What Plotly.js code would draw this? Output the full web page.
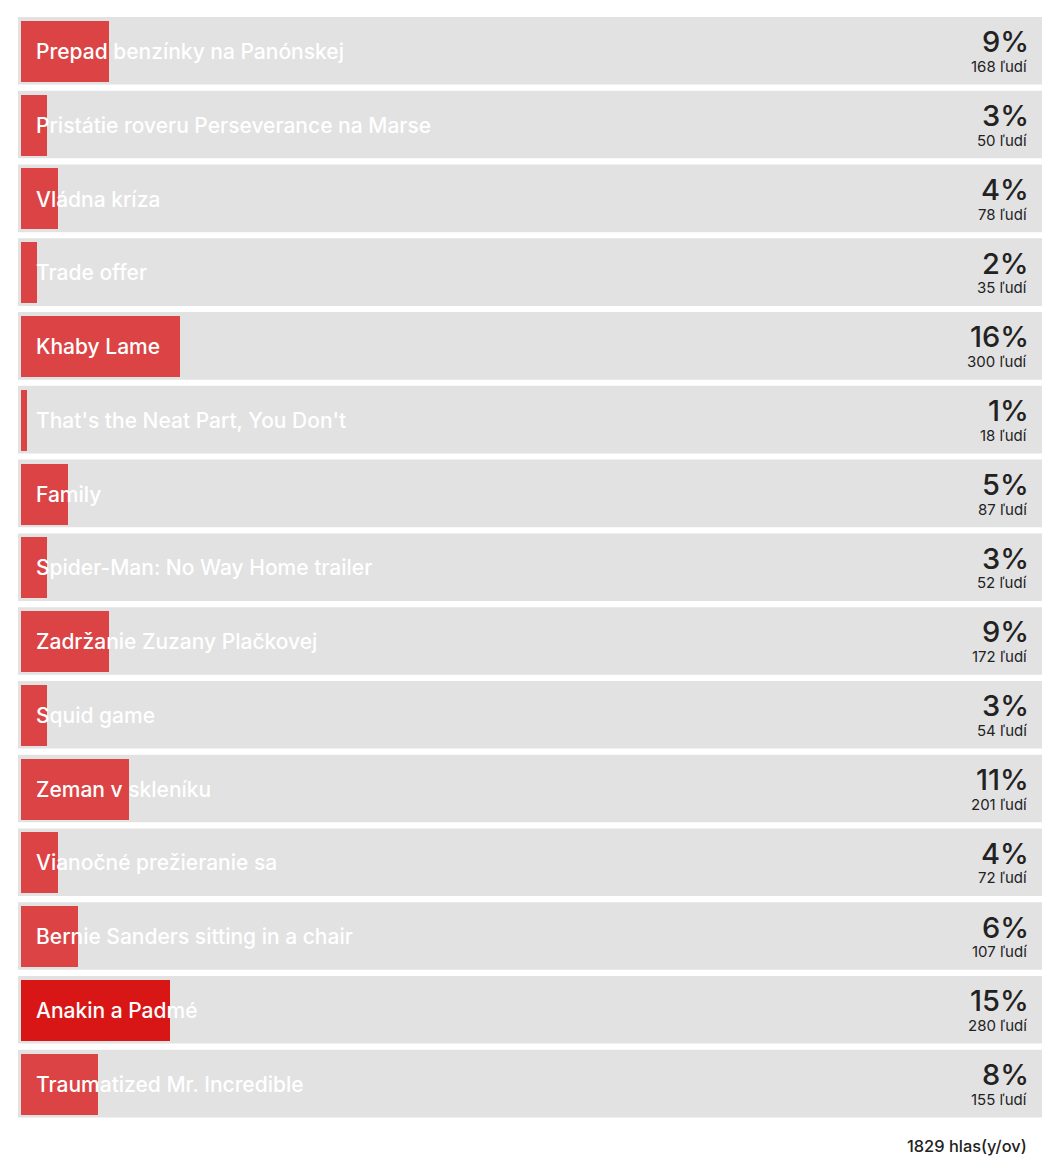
<!DOCTYPE html>
<html><head><meta charset="utf-8">
<script src="https://cdn.plot.ly/plotly-3.0.1.min.js"></script>
<style>html,body{margin:0;padding:0;background:#fff;overflow:hidden}#c{width:1052px;height:1163px}</style>
</head><body><div id="c"></div>
<script>
const categories=["Prepad benzínky na Panónskej","Pristátie roveru Perseverance na Marse","Vládna kríza","Trade offer","Khaby Lame","That's the Neat Part, You Don't","Family","Spider-Man: No Way Home trailer","Zadržanie Zuzany Plačkovej","Squid game","Zeman v skleníku","Vianočné prežieranie sa","Bernie Sanders sitting in a chair","Anakin a Padmé","Traumatized Mr. Incredible"];
const percents=[9,3,4,2,16,1,5,3,9,3,11,4,6,15,8];
const votes=[168,50,78,35,300,18,87,52,172,54,201,72,107,280,155];
const winner="Anakin a Padmé";
const footer="1829 hlas(y/ov)";
const peopleWord="ľudí";

const F="Inter, sans-serif", W=1052,H=1163, ROW=73.77, FIRST=50.8;
const PXP=10.2, ZERO=16.8, INSET=(21-ZERO)/PXP;
const idx=categories.map((_,i)=>i);
const bars={type:"bar",orientation:"h",y:idx,x:percents.map(p=>p-INSET),base:INSET,width:61/ROW,offset:-29.9/ROW,
  marker:{color:categories.map(c=>c===winner?"#d91616":"#dc4345"),line:{width:0}},hoverinfo:"skip"};
const shapes=idx.map(i=>({type:"rect",layer:"below",xref:"paper",yref:"y",x0:0,x1:1,y0:i-33.8/ROW,y1:i+33.8/ROW,fillcolor:"#e2e2e2",line:{width:0}}));
const annotations=[];
idx.forEach(i=>{
  annotations.push({xref:"paper",yref:"y",x:0,y:i,xshift:16,yshift:-0.7,xanchor:"left",yanchor:"middle",showarrow:false,text:categories[i],font:{family:F,size:21,color:"#ffffff",weight:500}});
  annotations.push({xref:"paper",yref:"y",x:1,y:i,xshift:-11.5,yshift:9,xanchor:"right",yanchor:"middle",showarrow:false,text:percents[i]+"%",font:{family:F,size:29,color:"#222222",weight:500}});
  annotations.push({xref:"paper",yref:"y",x:1,y:i,xshift:-13.5,yshift:-15.7,xanchor:"right",yanchor:"middle",showarrow:false,text:votes[i]+" "+peopleWord,font:{family:F,size:15,color:"#222222"}});
});
annotations.push({xref:"paper",yref:"paper",x:1,y:(H-1146)/H,xshift:-13,xanchor:"right",yanchor:"middle",showarrow:false,text:footer,font:{family:F,size:16.4,color:"#222222",weight:500}});
Plotly.newPlot("c",[bars],{width:W,height:H,margin:{l:18,r:10,t:0,b:0},paper_bgcolor:"#fff",plot_bgcolor:"#fff",showlegend:false,bargap:0,
  xaxis:{range:[(18-ZERO)/PXP,(1042-ZERO)/PXP],visible:false,fixedrange:true},
  yaxis:{range:[(H-FIRST)/ROW,-FIRST/ROW],visible:false,fixedrange:true},
  shapes,annotations},{displayModeBar:false,staticPlot:true});
</script></body></html>
